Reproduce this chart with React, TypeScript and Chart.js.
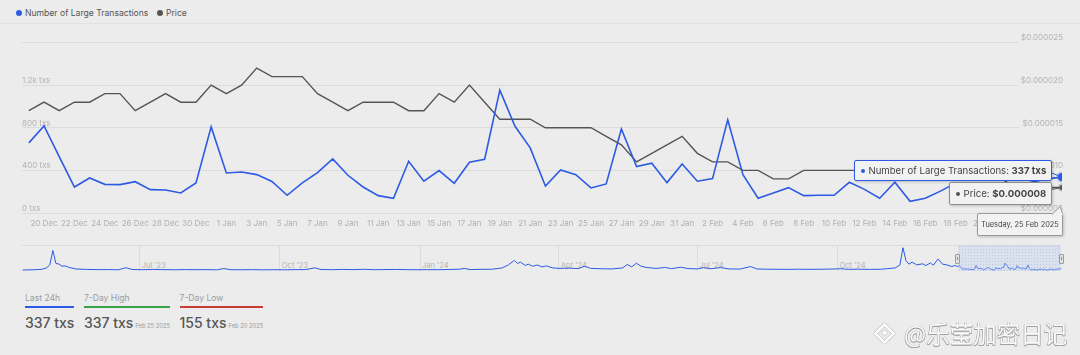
import React, { useEffect, useRef, useState } from 'react';
import { Chart, registerables } from 'chart.js';

Chart.register(...registerables);

const FONT = 'Inter, "Noto Sans", sans-serif';
const BG = '#ececec';
const BLUE = '#2d5be3';
const GRAY = '#555555';

// ---- main chart data (19 Dec 2024 – 25 Feb 2025) ----
const dayLabels = [
  '19 Dec', '20 Dec', '21 Dec', '22 Dec', '23 Dec', '24 Dec', '25 Dec', '26 Dec', '27 Dec', '28 Dec', '29 Dec', '30 Dec', '31 Dec',
  '1 Jan', '2 Jan', '3 Jan', '4 Jan', '5 Jan', '6 Jan', '7 Jan', '8 Jan', '9 Jan', '10 Jan', '11 Jan', '12 Jan', '13 Jan', '14 Jan',
  '15 Jan', '16 Jan', '17 Jan', '18 Jan', '19 Jan', '20 Jan', '21 Jan', '22 Jan', '23 Jan', '24 Jan', '25 Jan', '26 Jan', '27 Jan',
  '28 Jan', '29 Jan', '30 Jan', '31 Jan',
  '1 Feb', '2 Feb', '3 Feb', '4 Feb', '5 Feb', '6 Feb', '7 Feb', '8 Feb', '9 Feb', '10 Feb', '11 Feb', '12 Feb', '13 Feb', '14 Feb',
  '15 Feb', '16 Feb', '17 Feb', '18 Feb', '19 Feb', '20 Feb', '21 Feb', '22 Feb', '23 Feb', '24 Feb', '25 Feb',
];

const largeTxs = [
  658, 817, 530, 244, 329, 269, 266, 294, 219, 216,
  188, 282, 808, 376, 385, 360, 296, 166, 282, 379,
  507, 354, 244, 163, 138, 485, 298, 398, 279, 476,
  504, 1153, 814, 611, 254, 404, 360, 235, 273, 789,
  435, 467, 285, 460, 298, 323, 874, 360, 138, 188,
  238, 163, 166, 166, 288, 222, 138, 288, 110, 138,
  205, 280, 240, 155, 210, 250, 290, 320, 337,
];

const priceUsd = [
  0.000017, 0.000018, 0.000017, 0.000018, 0.000018, 0.000019, 0.000019, 0.000017, 0.000018, 0.000019,
  0.000018, 0.000018, 0.00002, 0.000019, 0.00002, 0.000022, 0.000021, 0.000021, 0.000021, 0.000019,
  0.000018, 0.000017, 0.000018, 0.000018, 0.000018, 0.000017, 0.000017, 0.000019, 0.000018, 0.00002,
  0.000018, 0.000016, 0.000016, 0.000016, 0.000015, 0.000015, 0.000015, 0.000015, 0.000014, 0.000013,
  0.000011, 0.000012, 0.000013, 0.000014, 0.000012, 0.000011, 0.000011, 0.00001, 0.00001, 0.000009,
  0.000009, 0.00001, 0.00001, 0.00001, 0.00001, 0.00001, 0.00001, 0.00001, 0.00001, 0.00001,
  0.00001, 0.000009, 0.000009, 0.000009, 0.000009, 0.000008, 0.000008, 0.000008, 0.000008,
];

const xTickLabels = [
  '20 Dec', '22 Dec', '24 Dec', '26 Dec', '28 Dec', '30 Dec',
  '1 Jan', '3 Jan', '5 Jan', '7 Jan', '9 Jan', '11 Jan', '13 Jan', '15 Jan', '17 Jan', '19 Jan', '21 Jan',
  '23 Jan', '25 Jan', '27 Jan', '29 Jan', '31 Jan',
  '2 Feb', '4 Feb', '6 Feb', '8 Feb', '10 Feb', '12 Feb', '14 Feb', '16 Feb', '18 Feb', '20 Feb', '22 Feb', '24 Feb',
];

const txsTickValues = [0, 400, 800, 1200, 1600];
const txsTickLabels = ['0 txs', '400 txs', '800 txs', '1.2k txs', ''];
const priceTickValues = [0.000005, 0.00001, 0.000015, 0.00002, 0.000025];
const priceTickLabels = ['$0.000005', '$0.000010', '$0.000015', '$0.000020', '$0.000025'];

const seriesNames = ['Number of Large Transactions', 'Price'];
const lastDateText = 'Tuesday, 25 Feb 2025';
const dataYear = '2025';

// ---- navigator (full history) ----
const navStart = '2023-04-15';
const navEnd = '2025-02-25';
const mainStartDate = '2024-12-19';
const historyDates = [
  '2023-04-15', '2023-04-22', '2023-04-28', '2023-05-01', '2023-05-03', '2023-05-05', '2023-05-07', '2023-05-09',
  '2023-05-11', '2023-05-13', '2023-05-16', '2023-05-20', '2023-05-27', '2023-06-03', '2023-06-10', '2023-06-17',
  '2023-06-22', '2023-06-26', '2023-07-03', '2023-07-10', '2023-07-17', '2023-07-24', '2023-07-31', '2023-08-07',
  '2023-08-14', '2023-08-21', '2023-08-25', '2023-08-30', '2023-09-06', '2023-09-13', '2023-09-20', '2023-09-27',
  '2023-10-04', '2023-10-11', '2023-10-18', '2023-10-24', '2023-10-28', '2023-11-04', '2023-11-11', '2023-11-18',
  '2023-11-25', '2023-12-02', '2023-12-09', '2023-12-16', '2023-12-23', '2023-12-30', '2024-01-06', '2024-01-13',
  '2024-01-20', '2024-01-27', '2024-01-30', '2024-02-03', '2024-02-10', '2024-02-17', '2024-02-24', '2024-02-28',
  '2024-03-03', '2024-03-05', '2024-03-07', '2024-03-10', '2024-03-12', '2024-03-15', '2024-03-18', '2024-03-21',
  '2024-03-24', '2024-03-28', '2024-04-02', '2024-04-08', '2024-04-14', '2024-04-18', '2024-04-22', '2024-04-29',
  '2024-05-06', '2024-05-13', '2024-05-16', '2024-05-19', '2024-05-22', '2024-05-25', '2024-05-29', '2024-06-04',
  '2024-06-10', '2024-06-14', '2024-06-20', '2024-06-25', '2024-07-01', '2024-07-05', '2024-07-10', '2024-07-16',
  '2024-07-22', '2024-07-29', '2024-08-05', '2024-08-09', '2024-08-16', '2024-08-23', '2024-08-30', '2024-09-06',
  '2024-09-13', '2024-09-20', '2024-09-27', '2024-10-03', '2024-10-08', '2024-10-15', '2024-10-22', '2024-10-29',
  '2024-11-03', '2024-11-08', '2024-11-11', '2024-11-13', '2024-11-15', '2024-11-17', '2024-11-19', '2024-11-22',
  '2024-11-26', '2024-11-28', '2024-12-01', '2024-12-03', '2024-12-06', '2024-12-09', '2024-12-12', '2024-12-15',
  '2024-12-17',
];
const historyTxs = [
  150, 180, 250, 480, 900, 2990, 1100, 1020,
  700, 750, 500, 300, 230, 200, 210, 180,
  480, 220, 190, 230, 200, 180, 210, 190,
  200, 170, 360, 190, 180, 200, 170, 190,
  180, 200, 210, 460, 220, 190, 230, 200,
  250, 190, 210, 230, 200, 180, 200, 190,
  220, 260, 380, 210, 240, 260, 450, 900,
  1550, 1100, 1300, 800, 1000, 700, 880, 600,
  740, 450, 380, 420, 350, 700, 380, 330,
  300, 450, 950, 600, 1150, 700, 500, 380,
  520, 340, 550, 360, 300, 480, 330, 500,
  300, 280, 650, 300, 260, 250, 240, 260,
  240, 260, 280, 330, 250, 260, 240, 250,
  350, 450, 900, 3400, 1500, 1000, 1300, 900,
  1050, 800, 1170, 850, 1750, 1000, 880, 650,
  800,
];
const navQuarterDates = ['2023-07-01', '2023-10-01', '2024-01-01', '2024-04-01', '2024-07-01', '2024-10-01'];
const navQuarterLabels = ["Jul '23", "Oct '23", "Jan '24", "Apr '24", "Jul '24", "Oct '24"];

const statLabels = ['Last 24h', '7-Day High', '7-Day Low'];
const statColors = [BLUE, '#3aa34a', '#c83a32'];
const watermarkText = '@乐莹加密日记';

const dayNum = (iso: string) =>
  Math.round((Date.parse(iso + 'T00:00:00Z') - Date.parse(navStart + 'T00:00:00Z')) / 86400000);

const last = largeTxs.length - 1;

function statDate(i: number) {
  const [d, m] = dayLabels[i].split(' ');
  return `${m} ${d} ${dataYear}`;
}

function weekStats() {
  let hi = last, lo = last;
  for (let i = last - 6; i <= last; i++) {
    if (largeTxs[i] > largeTxs[hi]) hi = i;
    if (largeTxs[i] < largeTxs[lo]) lo = i;
  }
  return { hi, lo };
}

export default function App() {
  const mainRef = useRef<HTMLCanvasElement>(null);
  const navRef = useRef<HTMLCanvasElement>(null);
  const [anchor, setAnchor] = useState<any>(null);
  const [sel, setSel] = useState<any>(null);

  useEffect(() => {
    const main = new Chart(mainRef.current as HTMLCanvasElement, {
      type: 'line',
      data: {
        datasets: [
          {
            label: seriesNames[0],
            data: largeTxs.map((v, i) => ({ x: i, y: v })),
            yAxisID: 'y',
            borderColor: BLUE,
            borderWidth: 1.6,
            tension: 0,
            pointRadius: (c: any) => (c.dataIndex === last ? 4 : 0),
            pointBackgroundColor: BLUE,
            pointBorderColor: 'rgba(45,91,227,0.3)',
            pointBorderWidth: 3,
            order: 1,
          },
          {
            label: seriesNames[1],
            data: priceUsd.map((v, i) => ({ x: i, y: v })),
            yAxisID: 'y1',
            borderColor: GRAY,
            borderWidth: 1.4,
            tension: 0,
            pointRadius: (c: any) => (c.dataIndex === last ? 2.5 : 0),
            pointBackgroundColor: GRAY,
            pointBorderColor: 'rgba(85,85,85,0.3)',
            pointBorderWidth: 3,
            order: 2,
          },
        ],
      },
      options: {
        responsive: false,
        animation: false,
        events: [],
        layout: { padding: { left: 22, right: 18, top: 42.5, bottom: 0 } },
        plugins: { legend: { display: false }, tooltip: { enabled: false } },
        scales: {
          x: {
            type: 'linear',
            min: -0.45,
            max: last,
            grid: { display: false, drawTicks: false },
            border: { display: false },
            afterBuildTicks: (s: any) => {
              s.ticks = xTickLabels.map((l) => ({ value: dayLabels.indexOf(l) }));
            },
            afterFit: (s: any) => {
              s.height = 27;
            },
            ticks: {
              autoSkip: false,
              maxRotation: 0,
              padding: 6,
              color: '#b0b0b0',
              font: { family: FONT, size: 8 },
              callback: (v: any) => dayLabels[v] ?? '',
            },
          },
          y: {
            position: 'left',
            min: 0,
            max: 1600,
            afterBuildTicks: (s: any) => {
              s.ticks = txsTickValues.map((v) => ({ value: v }));
            },
            afterFit: (s: any) => {
              s.width = 0;
            },
            grid: { color: '#dcdcdc', lineWidth: 1, drawTicks: false },
            border: { display: false },
            ticks: {
              mirror: true,
              padding: 0,
              labelOffset: -4.5,
              color: '#b3b3b3',
              font: { family: FONT, size: 8 },
              callback: (v: any) => txsTickLabels[txsTickValues.indexOf(v)] ?? '',
            },
          },
          y1: {
            position: 'right',
            min: priceTickValues[0],
            max: priceTickValues[priceTickValues.length - 1],
            afterBuildTicks: (s: any) => {
              s.ticks = priceTickValues.map((v) => ({ value: v }));
            },
            afterFit: (s: any) => {
              s.width = 0;
            },
            grid: { display: false, drawTicks: false },
            border: { display: false },
            ticks: {
              mirror: true,
              padding: 1,
              labelOffset: -4.5,
              color: '#b3b3b3',
              font: { family: FONT, size: 8 },
              showLabelBackdrop: true,
              backdropColor: BG,
              backdropPadding: { top: 1, bottom: 4, left: 3, right: 0 },
              callback: (v: any) => priceTickLabels[priceTickValues.indexOf(v)] ?? '',
            },
          },
        },
      } as any,
    });

    const navPoints = historyDates
      .map((d, i) => ({ x: dayNum(d), y: historyTxs[i] }))
      .concat(largeTxs.map((v, i) => ({ x: dayNum(mainStartDate) + i, y: v })));
    const quarterDays = navQuarterDates.map(dayNum);

    const nav = new Chart(navRef.current as HTMLCanvasElement, {
      type: 'line',
      data: {
        datasets: [
          {
            data: navPoints,
            borderColor: BLUE,
            borderWidth: 1,
            pointRadius: 0,
            tension: 0,
          },
        ],
      },
      options: {
        responsive: false,
        animation: false,
        events: [],
        layout: { padding: { left: 22.4, right: 18.6, top: 5, bottom: 0 } },
        plugins: { legend: { display: false }, tooltip: { enabled: false } },
        scales: {
          x: {
            type: 'linear',
            min: 0,
            max: dayNum(navEnd),
            afterBuildTicks: (s: any) => {
              s.ticks = quarterDays.map((v) => ({ value: v }));
            },
            afterFit: (s: any) => {
              s.height = 9;
            },
            grid: { color: '#dcdcdc', drawTicks: false },
            border: { display: false },
            ticks: { display: false },
          },
          y: { display: false, min: 0, max: 3800 },
        },
      } as any,
    });

    setAnchor({
      x: main.scales.x.getPixelForValue(last),
      yb: main.scales.y.getPixelForValue(largeTxs[last]),
      yg: main.scales.y1.getPixelForValue(priceUsd[last]),
      bottom: main.chartArea.bottom,
    });
    setSel({
      x1: nav.scales.x.getPixelForValue(dayNum(mainStartDate)),
      x2: nav.scales.x.getPixelForValue(dayNum(navEnd)),
      top: 240 + nav.chartArea.top,
      bottom: 240 + nav.chartArea.bottom,
      left: nav.chartArea.left,
      right: nav.chartArea.right,
      quarters: quarterDays.map((d) => nav.scales.x.getPixelForValue(d)),
    });

    return () => {
      main.destroy();
      nav.destroy();
    };
  }, []);

  const { hi, lo } = weekStats();
  const stats = [
    { value: largeTxs[last], date: '' },
    { value: largeTxs[hi], date: statDate(hi) },
    { value: largeTxs[lo], date: statDate(lo) },
  ];

  return (
    <div
      style={{
        position: 'absolute',
        left: 0,
        top: 0,
        width: 1080,
        height: 355,
        background: BG,
        overflow: 'hidden',
        fontFamily: FONT,
      }}
    >
      {/* legend */}
      <div style={{ position: 'absolute', left: 0, top: 23, width: 1080, height: 1, background: '#e1e1e1' }} />
      {seriesNames.map((name, i) => (
        <div
          key={name}
          style={{
            position: 'absolute',
            left: i === 0 ? 15.5 : 156.5,
            top: 6,
            height: 13,
            display: 'flex',
            alignItems: 'center',
            fontSize: 8.6,
            color: '#555',
            whiteSpace: 'nowrap',
          }}
        >
          <span
            style={{
              display: 'inline-block',
              width: 6,
              height: 6,
              borderRadius: 3,
              background: i === 0 ? BLUE : GRAY,
              marginRight: 3.5,
            }}
          />
          {name}
        </div>
      ))}

      {/* navigator */}
      {sel && (
        <>
          <div
            style={{
              position: 'absolute',
              left: sel.left,
              top: sel.top,
              width: sel.right - sel.left,
              height: 1,
              background: '#dcdcdc',
            }}
          />
          {sel.quarters.map((qx: number, k: number) => (
            <div
              key={k}
              style={{
                position: 'absolute',
                left: qx + 2,
                top: sel.bottom - 10,
                fontSize: 7.5,
                lineHeight: '9px',
                color: '#b3b3b3',
                whiteSpace: 'nowrap',
              }}
            >
              {navQuarterLabels[k]}
            </div>
          ))}
        </>
      )}
      <canvas ref={navRef} width={1080} height={40} style={{ position: 'absolute', left: 0, top: 240 }} />
      {sel && (
        <>
          <div
            style={{
              position: 'absolute',
              left: sel.x1,
              top: sel.top,
              width: sel.x2 - sel.x1,
              height: sel.bottom - sel.top,
              background: 'rgba(185,205,242,0.35)',
              backgroundImage: 'radial-gradient(rgba(120,150,215,0.3) 0.6px, transparent 0.9px)',
              backgroundSize: '3px 3px',
            }}
          />
          {[sel.x1, sel.x2].map((hx, k) => (
            <div
              key={k}
              style={{
                position: 'absolute',
                left: hx - 2.5,
                top: sel.top + 8.5,
                width: 5,
                height: 10,
                boxSizing: 'border-box',
                background: '#e4e4e4',
                border: '1px solid #9a9a9a',
                borderRadius: 1,
              }}
            >
              <div style={{ position: 'absolute', left: 1, top: 2.5, width: 1, height: 3, background: '#8a8a8a' }} />
            </div>
          ))}
        </>
      )}

      <canvas ref={mainRef} width={1080} height={240} style={{ position: 'absolute', left: 0, top: 0 }} />

      {/* stats */}
      <div style={{ position: 'absolute', left: 25, top: 292, display: 'flex', gap: 9.5 }}>
        {statLabels.map((lab, i) => (
          <div key={lab} style={{ display: 'flex', flexDirection: 'column' }}>
            <div
              style={{
                fontSize: 8.6,
                color: '#9b9b9b',
                height: 14,
                lineHeight: '13px',
                whiteSpace: 'nowrap',
              }}
            >
              {lab}
            </div>
            <div style={{ height: 1.6, background: statColors[i], width: '100%' }} />
            <div style={{ display: 'flex', alignItems: 'baseline', marginTop: 6, whiteSpace: 'nowrap' }}>
              <span style={{ fontSize: 14, fontWeight: 500, color: '#555', lineHeight: '17px' }}>
                {stats[i].value} txs
              </span>
              {stats[i].date && (
                <span style={{ fontSize: 5.8, color: '#9b9b9b', marginLeft: 2 }}>{stats[i].date}</span>
              )}
            </div>
          </div>
        ))}
      </div>

      {/* watermark */}
      <div
        style={{
          position: 'absolute',
          left: 877,
          top: 326,
          width: 15,
          height: 15,
          transform: 'rotate(45deg)',
          boxSizing: 'border-box',
          border: '2.5px solid #fff',
          boxShadow: '0 0 1.5px #8a8a8a, inset 0 0 1.5px #8a8a8a',
        }}
      >
        <div
          style={{
            position: 'absolute',
            left: 3,
            top: 3,
            width: 4,
            height: 4,
            background: '#fff',
            boxShadow: '0 0 1.5px #8a8a8a',
          }}
        />
      </div>
      <div
        style={{
          position: 'absolute',
          left: 904,
          top: 317,
          fontFamily: '"Noto Sans CJK SC", sans-serif',
          fontSize: 23.5,
          lineHeight: '32px',
          color: '#fbfbfb',
          whiteSpace: 'nowrap',
          textShadow:
            '0.5px 0.5px 0 #a0a0a0, -0.5px -0.5px 0 #a0a0a0, 0.5px -0.5px 0 #a0a0a0, -0.5px 0.5px 0 #a0a0a0',
        }}
      >
        {watermarkText}
      </div>

      {/* split tooltip */}
      {anchor && (
        <>
          <svg
            width={1080}
            height={355}
            style={{ position: 'absolute', left: 0, top: 0, pointerEvents: 'none' }}
          >
            <line x1={anchor.x - 10} y1={anchor.yb - 4} x2={anchor.x} y2={anchor.yb} stroke={BLUE} strokeWidth={1} />
            <line x1={anchor.x - 10} y1={anchor.yg + 2} x2={anchor.x} y2={anchor.yg} stroke={GRAY} strokeWidth={1} />
          </svg>
          <div
            style={{
              position: 'absolute',
              right: 1080 - (anchor.x - 9.7),
              top: anchor.yb - 16.8,
              height: 21,
              boxSizing: 'border-box',
              padding: '0 5px 0 6px',
              display: 'flex',
              alignItems: 'center',
              whiteSpace: 'nowrap',
              border: `1px solid ${BLUE}`,
              background: '#f2f2f2',
              boxShadow: '1px 1px 3px rgba(0,0,0,0.2)',
              borderRadius: 2,
              fontSize: 9.6,
              color: '#444',
            }}
          >
            <span style={{ width: 4, height: 4, borderRadius: 2, background: BLUE, marginRight: 3.5 }} />
            {seriesNames[0]}:&nbsp;<b style={{ fontWeight: 700 }}>{largeTxs[last]} txs</b>
          </div>
          <div
            style={{
              position: 'absolute',
              right: 1080 - (anchor.x - 9.7),
              top: anchor.yg - 5,
              height: 22.5,
              boxSizing: 'border-box',
              padding: '0 5px 0 6px',
              display: 'flex',
              alignItems: 'center',
              whiteSpace: 'nowrap',
              border: '1px solid #8c8c8c',
              background: '#f2f2f2',
              boxShadow: '1px 1px 3px rgba(0,0,0,0.2)',
              borderRadius: 2,
              fontSize: 9.6,
              color: '#444',
            }}
          >
            <span style={{ width: 4, height: 4, borderRadius: 2, background: GRAY, marginRight: 3.5 }} />
            {seriesNames[1]}:&nbsp;<b style={{ fontWeight: 700 }}>${priceUsd[last].toFixed(6)}</b>
          </div>
          <div
            style={{
              position: 'absolute',
              right: 1080 - (anchor.x + 1),
              top: anchor.bottom,
              height: 22.5,
              width: 86,
              boxSizing: 'border-box',
              display: 'flex',
              alignItems: 'center',
              justifyContent: 'center',
              whiteSpace: 'nowrap',
              border: '1px solid #9a9a9a',
              background: '#f2f2f2',
              boxShadow: '1px 1px 3px rgba(0,0,0,0.2)',
              borderRadius: 2,
              fontSize: 7.4,
              color: '#444',
            }}
          >
            {lastDateText}
          </div>
          <svg
            width={14}
            height={9}
            style={{ position: 'absolute', left: anchor.x - 10, top: anchor.bottom - 7.5, pointerEvents: 'none' }}
          >
            <polygon points="0,8.5 8,0.5 11,8.5" fill="#f2f2f2" stroke="#9a9a9a" strokeWidth={1} />
            <line x1={0.5} y1={8.5} x2={11} y2={8.5} stroke="#f2f2f2" strokeWidth={1.5} />
          </svg>
        </>
      )}
    </div>
  );
}
